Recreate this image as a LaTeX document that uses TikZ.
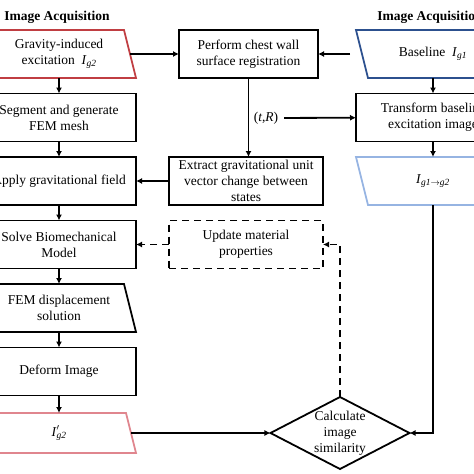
\documentclass[tikz,border=0pt]{standalone}
\usepackage{fontspec}
\setmainfont{Liberation Serif}
\usetikzlibrary{arrows.meta}
\usetikzlibrary{positioning,shapes.geometric}
\usepackage{xcolor}
\definecolor{gravred}{RGB}{192,62,66}
\definecolor{warpred}{RGB}{224,134,142}
\definecolor{baseblue}{RGB}{44,80,142}
\definecolor{warpblue}{RGB}{150,180,226}
\newcommand{\img}[1]{\textit{I}\textsubscript{\textit{#1}}}

\begin{document}
\begin{tikzpicture}[%
        x=1pt, y=-1pt,
        font=\fontsize{13.5pt}{16pt}\selectfont,
        every node/.style={inner sep=2pt, outer sep=0pt, align=center},
        procbox/.style={draw, minimum width=154pt, minimum height=48pt},
        databox/.style={minimum width=154pt, minimum height=48pt},
        headline/.style={font=\fontsize{13.5pt}{16pt}\selectfont\bfseries},
        dashes/.style={dash pattern=on 7pt off 5pt},
        line width=1.8pt,
        node distance=15.5pt, >={Latex[length=6pt,width=6pt]}
      ]
      \useasboundingbox (0,0) rectangle (474,474);
      \clip (0,0) rectangle (474,474);
      % left column
      \node [headline] (lhead) at (57,17) {Image Acquisition};
      \node [databox] (grav) at (59,54) {Gravity-induced\\excitation\ \ \img{g2}};
      \node [procbox] (seg) [below=of grav] {Segment and generate\\FEM mesh};
      \node [procbox] (apply) [below=of seg] {Apply gravitational field};
      \node [procbox] (solve) [below=of apply] {Solve Biomechanical\\Model};
      \node [databox] (fem) [below=of solve] {FEM displacement\\solution};
      \node [procbox] (deform) [below=of fem] {Deform Image};
      \node [databox, minimum height=40pt] (ipg) [below=17.5pt of deform]
        {\textit{I}\rlap{\textsuperscript{$\prime$}}\textsubscript{\textit{g2}}};
      % middle column
      \node [procbox, minimum width=139pt] (perf) at (248.5,54) {Perform chest wall\\surface registration};
      \node (tr) at (266,118) {(\textit{t},\textit{R})};
      \node [procbox] (extr) at (246,181) {Extract gravitational unit\\vector change between\\states};
      \node [procbox, dashes] (upd) [below=of extr] {Update material\\properties};
      \node [draw, diamond, minimum width=139pt, minimum height=72pt, inner sep=0pt,
        label={[align=center]center:Calculate\\image\\similarity}] (diam) at (340,433) {};
      % right column
      \node [headline] (rhead) at (430,17) {Image Acquisition};
      \node [databox] (base) at (433,54) {Baseline\ \ \img{g1}};
      \node [procbox] (trans) [below=of base] {Transform baseline\\excitation image};
      \node [databox] (ig12) [below=of trans]
        {\textit{I}\textsubscript{\textit{g1}$\rightarrow$\textit{g2}}};
      % slanted outlines of the image boxes
      \draw [gravred] (grav.north west) -- ([xshift=-12pt]grav.north east) -- (grav.south east)
        -- ([xshift=12pt]grav.south west) -- cycle;
      \draw (fem.north west) -- ([xshift=-12pt]fem.north east) -- (fem.south east)
        -- ([xshift=12pt]fem.south west) -- cycle;
      \draw [warpred] (ipg.north west) -- ([xshift=-10pt]ipg.north east) -- (ipg.south east)
        -- ([xshift=10pt]ipg.south west) -- cycle;
      \draw [baseblue] (base.north west) -- (base.north east) -- ([xshift=12pt]base.south east)
        -- ([xshift=12pt]base.south west) -- cycle;
      \draw [warpblue] (ig12.north west) -- (ig12.north east) -- ([xshift=12pt]ig12.south east)
        -- ([xshift=12pt]ig12.south west) -- cycle;
      % connectors
      \path [draw] (grav) edge[->] (seg)
      (seg) edge[->] (apply)
      (apply) edge[->] (solve)
      (solve) edge[->] (fem)
      (fem) edge[->] (deform)
      (deform) edge[->] (ipg)
      (grav) edge[->, shorten <=-6pt] (perf)
      (base) edge[->, shorten <=6pt] (perf)
      (base) edge[->] (trans)
      (trans) edge[->] (ig12)
      (tr) edge[->, shorten <=4pt] (trans)
      (extr) edge[->] (apply)
      (ipg) edge[->, shorten <=-5pt] (diam);
      \draw [->] (perf.south) -- (perf.south |- extr.north);
      \draw [->] (ig12) |- (diam);
      \draw [->, dashes] (upd) -- (solve);
      \draw [->, dashes] (diam) |- (upd);
    \end{tikzpicture}
\end{document}
